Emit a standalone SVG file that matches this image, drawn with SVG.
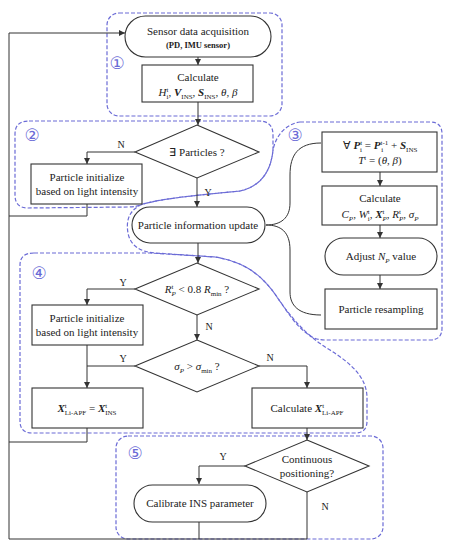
<svg xmlns="http://www.w3.org/2000/svg" width="453" height="550" viewBox="0 0 453 550" font-family="'Liberation Serif', 'Times New Roman', serif">
<style>
.n{fill:#fff;stroke:#333;stroke-width:1.1}
.t{font-family:'Liberation Serif','Times New Roman',serif;font-size:11px;fill:#222;text-anchor:middle}
.s{font-family:'Liberation Serif','Times New Roman',serif;font-size:10px;fill:#222;text-anchor:middle}
.c{stroke:#333;stroke-width:1;fill:none}
.r{fill:none;stroke:#6b6bd6;stroke-width:1.2;stroke-dasharray:4 2}
.num{font-family:'DejaVu Sans',sans-serif;font-size:17px;fill:#6b6bd6;text-anchor:middle}
.i{font-style:italic}
.b{font-style:italic;font-weight:bold}
</style>
<defs>
<marker id="ah" markerWidth="6" markerHeight="6" refX="6" refY="3" orient="auto" markerUnits="userSpaceOnUse"><path d="M0,0 L6,3 L0,6 Z" fill="#333"/></marker>
</defs>
<rect width="453" height="550" fill="#fff"/>
<g id="regions">
<rect class="r" x="107" y="13" width="175" height="103" rx="12"/>
<path class="r" d="M29,121 H259 Q273,121 273,135 V150 C271,170 262,186 240,191 C200,195 165,198 143,204 C138,206 134,207 128,207 L28,208 Q15,208 15,195 V134 Q15,121 29,121 Z"/>
<path class="r" d="M300,122 H430 Q442,122 442,134 V328 Q442,340 430,340 H325 C315,340 310,336 305,332 C295,324 288,313 277,297 C262,275 245,262 215,257 L155,253 C140,252 130,245 128,233 C126,222 128,210 143,204 C165,198 200,195 240,191 C262,186 271,170 273,150 C276,135 286,124 300,122 Z"/>
<path class="r" d="M34,253 H150 L215,257 C245,262 262,275 277,297 C290,316 305,335 330,350 C352,364 367,378 367,398 V421 Q367,433 355,433 H32 Q20,433 20,421 V265 Q20,253 34,253 Z"/>
<rect class="r" x="116" y="436" width="267" height="103" rx="12"/>
<text class="num" x="117" y="69">①</text>
<text class="num" x="32" y="141">②</text>
<text class="num" x="295" y="141">③</text>
<text class="num" x="39" y="279">④</text>
<text class="num" x="135" y="459">⑤</text>
</g>
<g id="connectors">
<path class="c" d="M198,57 V65" marker-end="url(#ah)"/>
<path class="c" d="M198,102 V125" marker-end="url(#ah)"/>
<path class="c" d="M135,152 H87 V164" marker-end="url(#ah)"/>
<path class="c" d="M197,178 V207" marker-end="url(#ah)"/>
<path class="c" d="M87,204 V216 H9"/>
<path class="c" d="M9,539 V33 H125" marker-end="url(#ah)"/>
<path class="c" d="M321,143 C298,143 290,155 290,175 V203 C290,218 281,225 266,225 C281,225 290,232 290,250 V292 C290,305 298,315 321,315"/>
<path class="c" d="M380,172 V186" marker-end="url(#ah)"/>
<path class="c" d="M380,225 V238" marker-end="url(#ah)"/>
<path class="c" d="M380,275 V289" marker-end="url(#ah)"/>
<path class="c" d="M198,243 V263" marker-end="url(#ah)"/>
<path class="c" d="M135,289 H87 V305" marker-end="url(#ah)"/>
<path class="c" d="M197,315 V340" marker-end="url(#ah)"/>
<path class="c" d="M87,345 V388" marker-end="url(#ah)"/>
<path class="c" d="M135,366 H87"/>
<path class="c" d="M259,366 H307 V388" marker-end="url(#ah)"/>
<path class="c" d="M87,428 V442 H9"/>
<path class="c" d="M307,428 V440" marker-end="url(#ah)"/>
<path class="c" d="M245,466 H199 V484" marker-end="url(#ah)"/>
<path class="c" d="M307,492 V539 H9"/>
<path class="c" d="M199,522 V539"/>
<text class="s" x="121" y="148">N</text>
<text class="s" x="208" y="196">Y</text>
<text class="s" x="123" y="286">Y</text>
<text class="s" x="209" y="330">N</text>
<text class="s" x="123" y="362">Y</text>
<text class="s" x="270" y="361">N</text>
<text class="s" x="223" y="460">Y</text>
<text class="s" x="325" y="510">N</text>
</g>
<g id="sensor">
<rect class="n" x="125" y="16" width="146" height="41" rx="20.5"/>
<text class="t" x="198" y="35">Sensor data acquisition</text>
<text class="t" x="198" y="48" font-weight="bold" style="font-size:8.5px">(PD, IMU sensor)</text>
</g>
<g id="calc1">
<rect class="n" x="142" y="65" width="111" height="37"/>
<text class="t" x="198" y="81">Calculate</text>
<text class="t" x="198" y="96"><tspan class="i">H</tspan><tspan font-size="7" dy="-4">t</tspan><tspan font-size="7" dx="-2" dy="7">i</tspan><tspan dy="-3">, </tspan><tspan class="b">V</tspan><tspan font-size="7" dy="3">INS</tspan><tspan dy="-3">, </tspan><tspan class="b">S</tspan><tspan font-size="7" dy="3">INS</tspan><tspan dy="-3">, </tspan><tspan class="i">θ</tspan>, <tspan class="i">β</tspan></text>
</g>
<g id="exist">
<path class="n" d="M197,125 L259,152 L197,178 L135,152 Z"/>
<text class="t" x="197" y="156">∃ Particles ?</text>
</g>
<g id="init1">
<rect class="n" x="31" y="164" width="111" height="40"/>
<text class="t" x="87" y="181">Particle initialize</text>
<text class="t" x="87" y="195">based on light intensity</text>
</g>
<g id="update">
<rect class="n" x="132" y="207" width="133" height="36" rx="18"/>
<text class="t" x="198" y="229">Particle information update</text>
</g>
<g id="propagate">
<rect class="n" x="322" y="132" width="115" height="40"/>
<text class="t" x="380" y="149">∀ <tspan class="b">P</tspan><tspan font-size="7" dy="-4">t</tspan><tspan font-size="7" dx="-2" dy="7">i</tspan><tspan dy="-3"> = </tspan><tspan class="b">P</tspan><tspan font-size="7" dy="-4">t-1</tspan><tspan font-size="7" dx="-7" dy="7">i</tspan><tspan dy="-3" dx="5"> + </tspan><tspan class="b">S</tspan><tspan font-size="7" dy="3">INS</tspan></text>
<text class="t" x="380" y="164"><tspan class="i">T</tspan><tspan font-size="7" dy="-4">t</tspan><tspan dy="4"> = (</tspan><tspan class="i">θ</tspan>, <tspan class="i">β</tspan>)</text>
</g>
<g id="calc2">
<rect class="n" x="322" y="186" width="115" height="39"/>
<text class="t" x="380" y="202">Calculate</text>
<text class="t" x="380" y="218"><tspan class="i">C</tspan><tspan font-size="7" class="i" dy="3">P</tspan><tspan dy="-3">, </tspan><tspan class="i">W</tspan><tspan font-size="7" dy="-4">t</tspan><tspan font-size="7" dx="-2" dy="7">i</tspan><tspan dy="-3">, </tspan><tspan class="b">X</tspan><tspan font-size="7" dy="-4">t</tspan><tspan font-size="7" class="i" dx="-2" dy="7">P</tspan><tspan dy="-3">, </tspan><tspan class="i">R</tspan><tspan font-size="7" dy="-4">t</tspan><tspan font-size="7" class="i" dx="-2" dy="7">P</tspan><tspan dy="-3">, </tspan><tspan class="i">σ</tspan><tspan font-size="7" class="i" dy="3">P</tspan></text>
</g>
<g id="adjust">
<rect class="n" x="325" y="238" width="112" height="37" rx="18.5"/>
<text class="t" x="381" y="260">Adjust <tspan class="i">N</tspan><tspan font-size="7" class="i" dy="3">P</tspan><tspan dy="-3"> value</tspan></text>
</g>
<g id="resample">
<rect class="n" x="325" y="289" width="112" height="40"/>
<text class="t" x="381" y="313">Particle resampling</text>
</g>
<g id="rcheck">
<path class="n" d="M197,263 L259,289 L197,315 L135,289 Z"/>
<text class="t" x="197" y="293"><tspan class="i">R</tspan><tspan font-size="7" dy="-4">t</tspan><tspan font-size="7" class="i" dx="-2" dy="7">P</tspan><tspan dy="-3"> &lt; 0.8 </tspan><tspan class="i">R</tspan><tspan font-size="7" dy="3">min</tspan><tspan dy="-3"> ?</tspan></text>
</g>
<g id="init2">
<rect class="n" x="32" y="305" width="111" height="40"/>
<text class="t" x="87" y="322">Particle initialize</text>
<text class="t" x="87" y="336">based on light intensity</text>
</g>
<g id="scheck">
<path class="n" d="M197,340 L259,366 L197,392 L135,366 Z"/>
<text class="t" x="197" y="370"><tspan class="i">σ</tspan><tspan font-size="7" class="i" dy="3">P</tspan><tspan dy="-3"> &gt; </tspan><tspan class="i">σ</tspan><tspan font-size="7" dy="3">min</tspan><tspan dy="-3"> ?</tspan></text>
</g>
<g id="xins">
<rect class="n" x="32" y="388" width="111" height="40"/>
<text class="t" x="87" y="412"><tspan class="b">X</tspan><tspan font-size="7" dy="-4">t</tspan><tspan font-size="7" dx="-2" dy="7">Li-APF</tspan><tspan dy="-3"> = </tspan><tspan class="b">X</tspan><tspan font-size="7" dy="-4">t</tspan><tspan font-size="7" dx="-2" dy="7">INS</tspan></text>
</g>
<g id="calcx">
<rect class="n" x="252" y="388" width="111" height="40"/>
<text class="t" x="307" y="412">Calculate <tspan class="b">X</tspan><tspan font-size="7" dy="-4">t</tspan><tspan font-size="7" dx="-2" dy="7">Li-APF</tspan></text>
</g>
<g id="continuous">
<path class="n" d="M307,440 L369,466 L307,492 L245,466 Z"/>
<text class="t" x="307" y="463">Continuous</text>
<text class="t" x="307" y="477">positioning?</text>
</g>
<g id="calibrate">
<rect class="n" x="134" y="485" width="132" height="37" rx="18.5"/>
<text class="t" x="200" y="507">Calibrate INS parameter</text>
</g>
</svg>
